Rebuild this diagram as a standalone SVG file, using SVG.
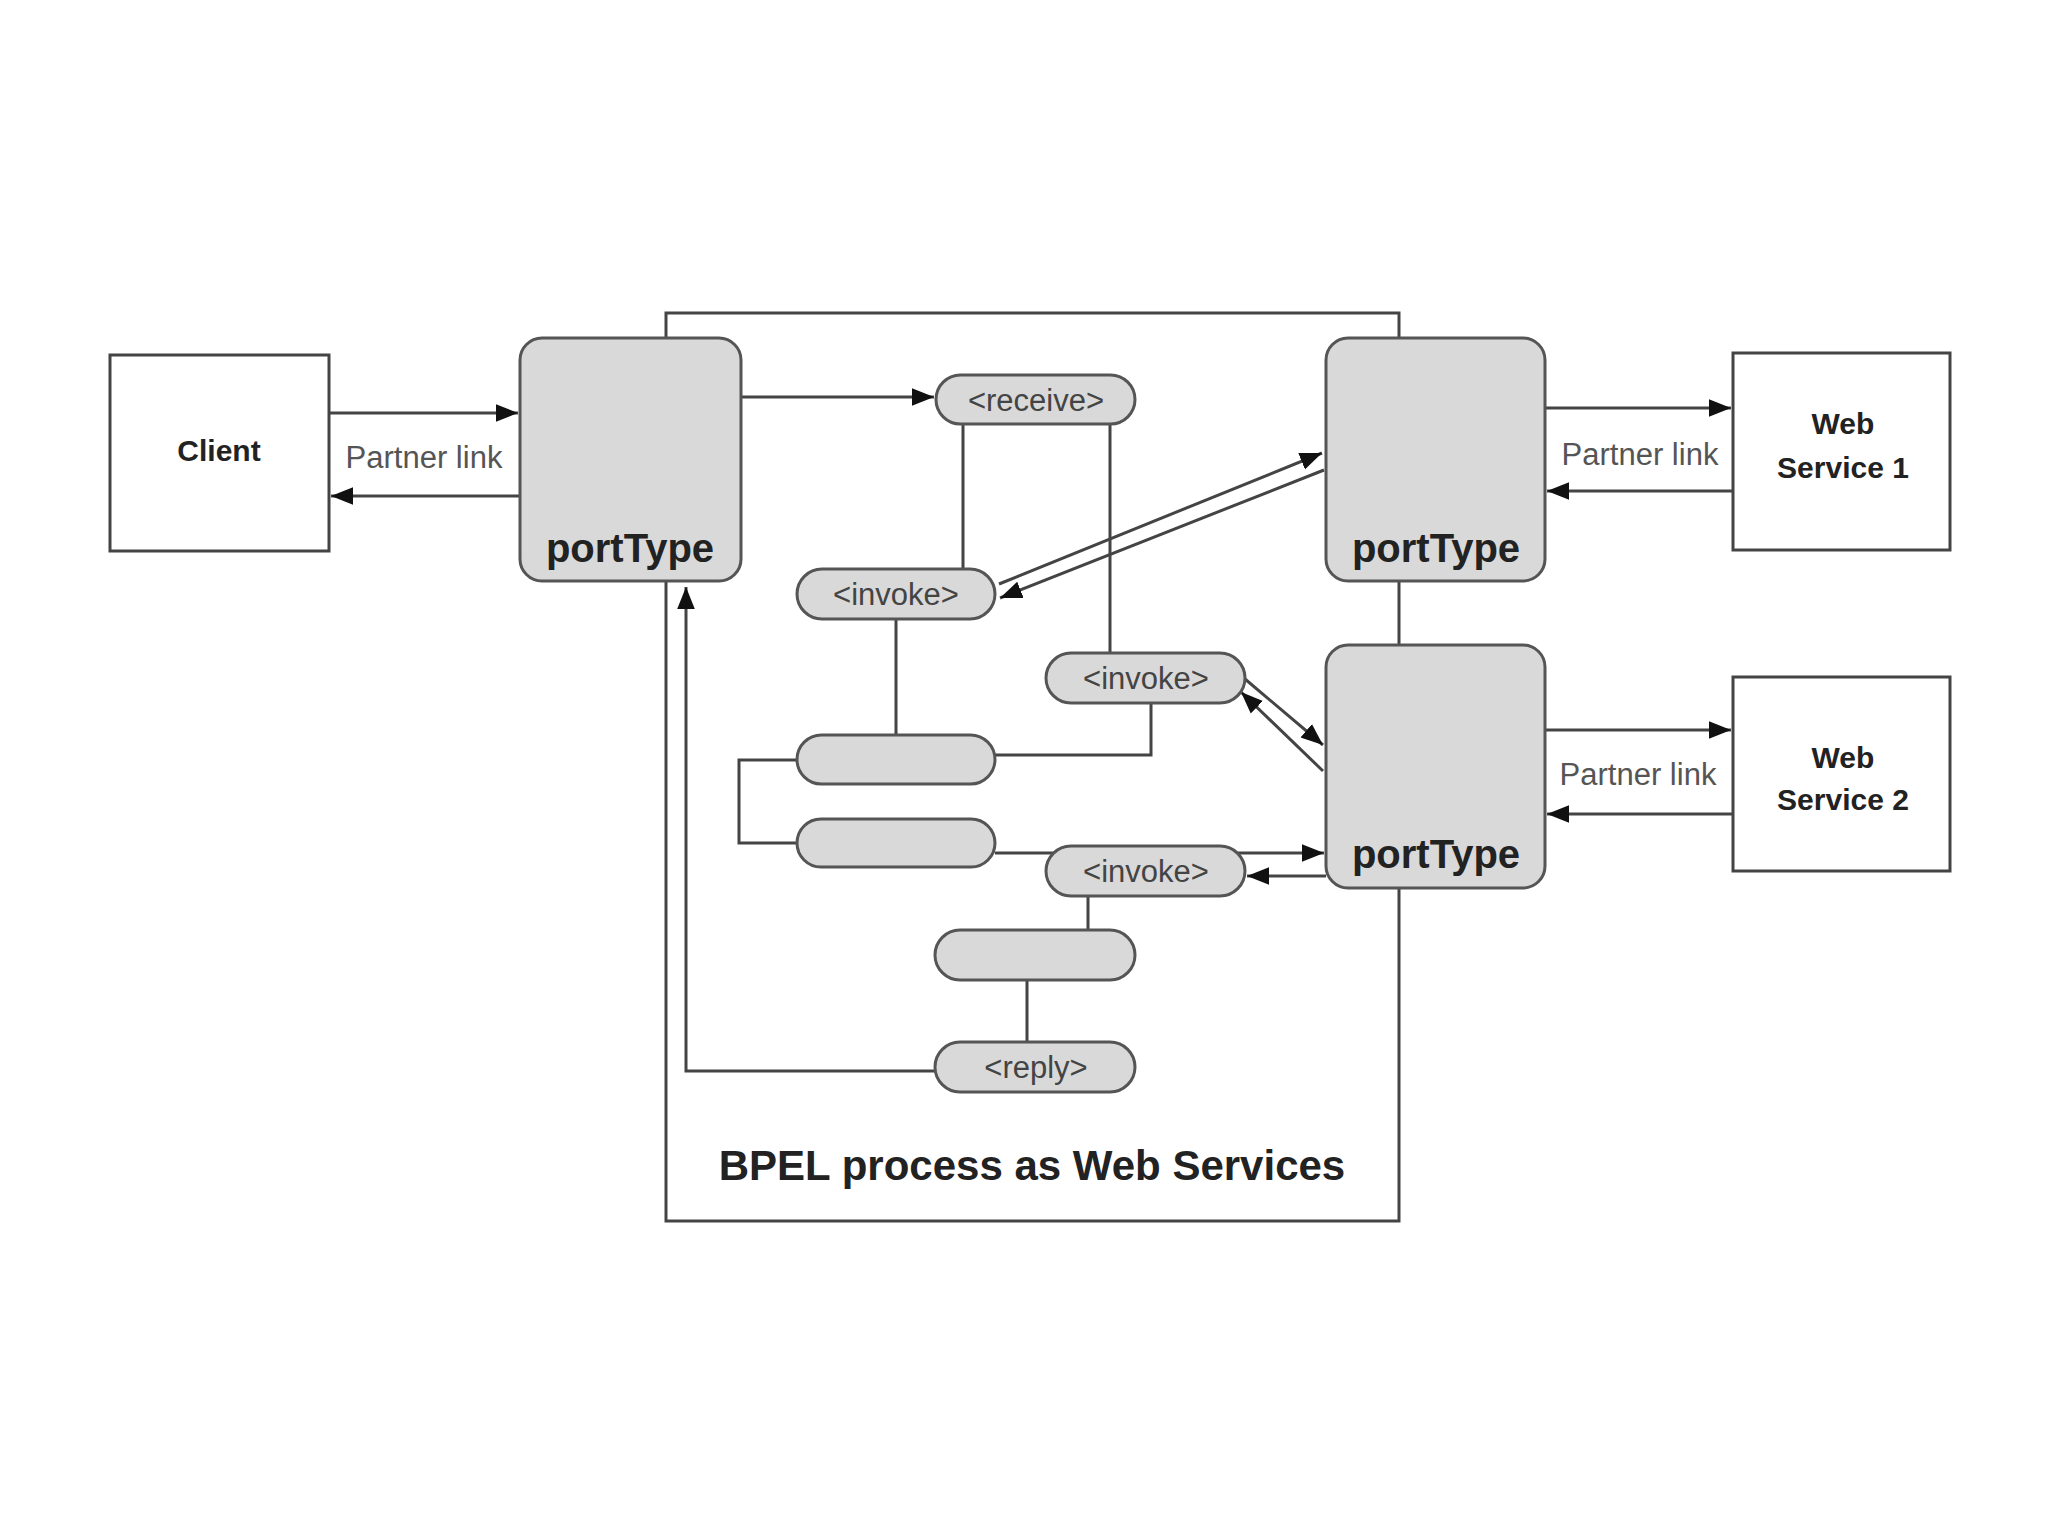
<svg xmlns="http://www.w3.org/2000/svg" width="2048" height="1536" viewBox="0 0 2048 1536">
<defs>
<style>
.box{fill:#fff;stroke:#444;stroke-width:3}
.pt{fill:#d9d9d9;stroke:#555;stroke-width:3}
.pill{fill:#d9d9d9;stroke:#555;stroke-width:3}
.ln{fill:none;stroke:#444;stroke-width:3}
.t{font-family:"Liberation Sans",Arial,sans-serif;fill:#222;text-anchor:middle}
.b{font-weight:bold}
.pl{font-size:31px;fill:#555}
.pk{font-size:31px;fill:#444}
</style>
<marker id="a" viewBox="0 0 10 10" refX="10" refY="5" markerWidth="7" markerHeight="7" orient="auto-start-reverse" markerUnits="userSpaceOnUse">
<path d="M0,0L10,5L0,10z" fill="#111"/>
</marker>
<marker id="ar" viewBox="0 0 10 10" refX="10" refY="5" markerWidth="22" markerHeight="22" orient="auto" markerUnits="userSpaceOnUse">
<path d="M0,1L10,5L0,9z" fill="#111"/>
</marker>
</defs>
<rect width="2048" height="1536" fill="#fff"/>
<g id="bpel"><rect class="box" x="666" y="313" width="733" height="908" fill="none"/>
<text class="t b" x="1032" y="1180" font-size="42">BPEL process as Web Services</text></g>
<g id="connectors">
<path class="ln" d="M329,413H518" marker-end="url(#ar)"/>
<path class="ln" d="M520,496H331" marker-end="url(#ar)"/>
<path class="ln" d="M741,397H934" marker-end="url(#ar)"/>
<path class="ln" d="M963,424V569M1110,424V653"/>
<path class="ln" d="M999,584L1322,453" marker-end="url(#ar)"/>
<path class="ln" d="M1324,470L1000,598" marker-end="url(#ar)"/>
<path class="ln" d="M896,619V735"/>
<path class="ln" d="M1151,703V755H995"/>
<path class="ln" d="M797,760H739V843H797"/>
<path class="ln" d="M995,853H1324" marker-end="url(#ar)"/>
<path class="ln" d="M1326,876H1247" marker-end="url(#ar)"/>
<path class="ln" d="M1245,679L1323,745" marker-end="url(#ar)"/>
<path class="ln" d="M1323,771L1241,692" marker-end="url(#ar)"/>
<path class="ln" d="M1088,896V930M1027,980V1042"/>
<path class="ln" d="M935,1071H686V587" marker-end="url(#ar)"/>
<path class="ln" d="M1545,408H1731" marker-end="url(#ar)"/>
<path class="ln" d="M1733,491H1547" marker-end="url(#ar)"/>
<path class="ln" d="M1545,730H1731" marker-end="url(#ar)"/>
<path class="ln" d="M1733,814H1547" marker-end="url(#ar)"/>
</g>
<g id="client"><rect class="box" x="110" y="355" width="219" height="196"/><text class="t b" x="219" y="461" font-size="30">Client</text></g>
<text class="t pl" x="424" y="468">Partner link</text>
<text class="t pl" x="1640" y="465">Partner link</text>
<text class="t pl" x="1638" y="785">Partner link</text>
<g id="pt1"><rect class="pt" x="520" y="338" width="221" height="243" rx="22"/><text class="t b" x="630" y="562" font-size="40">portType</text></g>
<g id="pt2"><rect class="pt" x="1326" y="338" width="219" height="243" rx="22"/><text class="t b" x="1436" y="562" font-size="40">portType</text></g>
<g id="pt3"><rect class="pt" x="1326" y="645" width="219" height="243" rx="22"/><text class="t b" x="1436" y="868" font-size="40">portType</text></g>
<g id="ws1"><rect class="box" x="1733" y="353" width="217" height="197"/><text class="t b" x="1843" y="434" font-size="30">Web</text><text class="t b" x="1843" y="478" font-size="30">Service 1</text></g>
<g id="ws2"><rect class="box" x="1733" y="677" width="217" height="194"/><text class="t b" x="1843" y="768" font-size="30">Web</text><text class="t b" x="1843" y="810" font-size="30">Service 2</text></g>
<g id="receive"><rect class="pill" x="936" y="375" width="199" height="49" rx="24.5"/><text class="t pk" x="1036" y="411">&lt;receive&gt;</text></g>
<g id="invoke1"><rect class="pill" x="797" y="569" width="198" height="50" rx="25"/><text class="t pk" x="896" y="605">&lt;invoke&gt;</text></g>
<g id="invoke2"><rect class="pill" x="1046" y="653" width="199" height="50" rx="25"/><text class="t pk" x="1146" y="689">&lt;invoke&gt;</text></g>
<g id="blank1"><rect class="pill" x="797" y="735" width="198" height="49" rx="24.5"/></g>
<g id="blank2"><rect class="pill" x="797" y="819" width="198" height="48" rx="24"/></g>
<g id="invoke3"><rect class="pill" x="1046" y="846" width="199" height="50" rx="25"/><text class="t pk" x="1146" y="882">&lt;invoke&gt;</text></g>
<g id="blank3"><rect class="pill" x="935" y="930" width="200" height="50" rx="25"/></g>
<g id="reply"><rect class="pill" x="935" y="1042" width="200" height="50" rx="25"/><text class="t pk" x="1036" y="1078">&lt;reply&gt;</text></g>
</svg>
